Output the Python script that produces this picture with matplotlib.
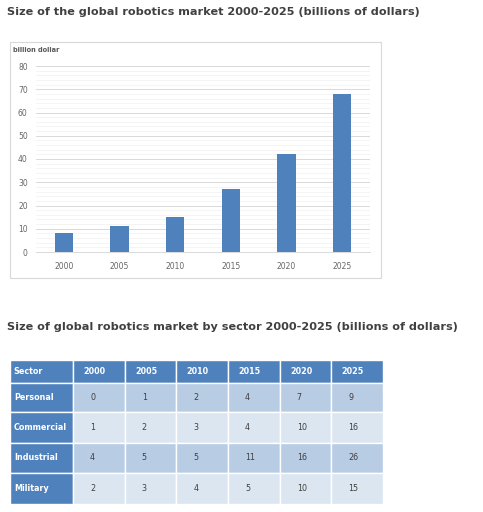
import matplotlib
matplotlib.use("Agg")
import matplotlib.pyplot as plt
from matplotlib.patches import Rectangle
from matplotlib.ticker import MultipleLocator

years = ["2000", "2005", "2010", "2015", "2020", "2025"]
market = [8, 11, 15, 27, 42, 68]
sectors = ["Personal", "Commercial", "Industrial", "Military"]
personal = [0, 1, 2, 4, 7, 9]
commercial = [1, 2, 3, 4, 10, 16]
industrial = [4, 5, 5, 11, 16, 26]
military = [2, 3, 4, 5, 10, 15]

W, H = 483, 512
fig = plt.figure(figsize=(W / 100, H / 100), dpi=100)
fig.patch.set_facecolor("white")

def fx(px):
    return px / W

def fy(py):
    return 1 - py / H

BLUE = "#4F81BD"
TXT = "#404040"

# titles
fig.text(fx(7), fy(12), "Size of the global robotics market 2000-2025 (billions of dollars)",
         fontsize=8.1, fontweight="bold", color=TXT, va="center", ha="left")
fig.text(fx(7), fy(327), "Size of global robotics market by sector 2000-2025 (billions of dollars)",
         fontsize=8.1, fontweight="bold", color=TXT, va="center", ha="left")

# chart frame
fig.patches.append(Rectangle((fx(10), fy(278)), fx(371), (278 - 42) / H,
                             transform=fig.transFigure, facecolor="white",
                             edgecolor="#D9D9D9", linewidth=0.8, zorder=-5))
fig.text(fx(13), fy(50), "billion dollar", fontsize=4.8, color="#595959",
         fontweight="bold", va="center", ha="left")

ax = fig.add_axes([fx(36), fy(252), fx(334), (252 - 66) / H])
ax.set_facecolor("none")
x = list(range(len(years)))
ax.bar(x, market, width=0.33, color=BLUE, zorder=3)
ax.set_xlim(-0.5, len(years) - 0.5)
ax.set_ylim(0, 80)
ax.yaxis.set_major_locator(MultipleLocator(10))
ax.yaxis.set_minor_locator(MultipleLocator(2))
ax.grid(axis="y", which="major", color="#D9D9D9", linewidth=0.7, zorder=0)
ax.grid(axis="y", which="minor", color="#F0F0F0", linewidth=0.5, zorder=0)
ax.set_xticks(x)
ax.set_xticklabels(years)
for s in ["top", "right", "left"]:
    ax.spines[s].set_visible(False)
ax.spines["bottom"].set_color("#D9D9D9")
ax.spines["bottom"].set_linewidth(0.7)
ax.tick_params(axis="both", which="both", length=0, labelsize=5.5, labelcolor="#666666")
ax.tick_params(axis="x", pad=7)
ax.tick_params(axis="y", pad=6)

# table
tax = fig.add_axes([0, 0, 1, 1])
tax.set_axis_off()
tax.patch.set_visible(False)
rows = [personal, commercial, industrial, military]
cell_text = [["Sector"] + years]
for name, vals in zip(sectors, rows):
    cell_text.append([name] + [str(v) for v in vals])
row_colors = ["#B8CCE4", "#DCE6F1", "#B8CCE4", "#DCE6F1"]
colours = [[BLUE] * 7]
for c in row_colors:
    colours.append([BLUE] + [c] * 6)

tb = tax.table(cellText=cell_text, cellColours=colours, cellLoc="left",
               bbox=[fx(10), fy(504), fx(373), (504 - 360) / H])
tb.auto_set_font_size(False)
first_w = 63 / 373
other_w = (1 - first_w) / 6
row_h_px = [23, 28.5, 31, 30, 31.5]
for (r, c), cell in tb.get_celld().items():
    cell.set_edgecolor("white")
    cell.set_linewidth(1.0)
    cell.set_width(first_w if c == 0 else other_w)
    cell.set_height(row_h_px[r] / 144)
    t = cell.get_text()
    t.set_fontsize(5.8)
    if r == 0 or c == 0:
        t.set_color("white")
        t.set_fontweight("bold")
        cell.PAD = 0.06 if c == 0 else 0.2
    else:
        t.set_color(TXT)
        cell.PAD = 0.33

fig.savefig("out.png", dpi=100)
